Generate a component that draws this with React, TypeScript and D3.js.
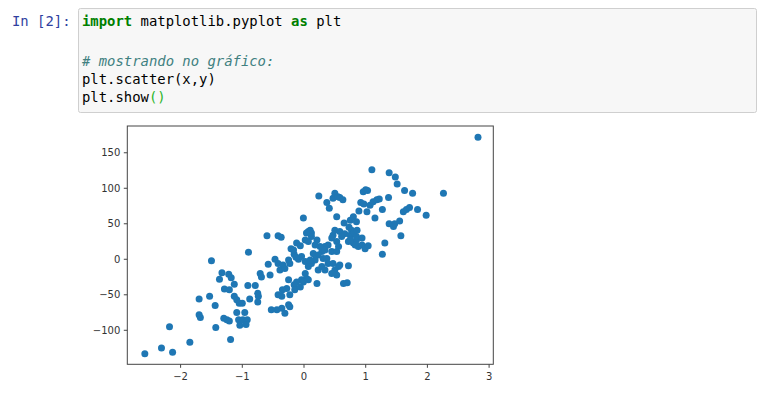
import React from "react";
import * as d3 from "d3";

// scatter data (x, y)
const xs: number[] = [
  -2.58, -2.31, -2.13, -2.18, -1.85, -1.50, -0.90, -1.70, -1.70, -1.68,
  -1.53, -1.44, -1.43, -1.19, -1.33, -1.37, -1.22, -1.18, -1.13, -1.29,
  -1.21, -1.13, -1.09, -1.05, -1.00, -1.30, -1.25, -1.21, -1.09, -1.06,
  -1.04, -0.99, -0.96, -0.92, -0.94, -0.91, -0.88, -0.79, -0.75, -0.71,
  -0.69, -0.74, -0.58, -0.55, -0.47, -0.42, -0.34, -0.25, -0.39, -0.31,
  -0.23, -0.09, -0.04, -0.16, -0.13, -0.21, -0.17, -0.12, 0.02, 0.07,
  0.12, 0.15, 0.02, 0.07, 0.02, 0.04, -0.04, -0.12, -0.16, -0.25,
  -0.28, -0.35, -0.42, -0.36, -0.25, -0.36, -0.44, -0.53, -0.31, -0.23,
  0.21, -0.75, -0.60, -0.42, -0.37, -0.01, 0.24, 0.37, 0.41, 0.47,
  0.50, 0.55, 0.58, 0.63, 0.53, -0.15, -0.23, -0.01, 0.21, 0.34,
  0.39, 0.47, 0.50, 0.58, 0.53, 0.56, 0.29, 0.23, 0.18, 0.12,
  0.23, 0.29, 0.31, 0.37, 0.39, 0.47, 0.50, 0.56, 0.53, 0.64,
  0.65, 0.45, 0.34, 0.45, 0.26, 0.18, 0.07, -0.06, 0.72, 0.80,
  0.88, 0.94, 0.99, 1.04, 0.85, 0.72, 0.70, 0.10, 0.58, 1.10,
  1.38, 1.48, 1.51, 1.63, 1.76, 2.26, 2.82, 0.96, 1.00, 1.03,
  0.92, 0.97, 1.07, 1.12, 1.18, 1.22, 1.37, 1.27, 0.89, 1.02,
  1.15, 0.75, 0.80, 0.85, 1.61, 1.66, 1.71, 1.84, 1.98, 1.38,
  1.45, 1.47, 1.55, 1.57, 1.31, 1.27, 0.73, 0.77, 0.66, 0.75,
  0.81, 0.86, 0.85, 0.75, 0.94, 0.83, 0.61, 0.45, 0.10, 0.12,
  0.07, 0.34, 0.53, -0.06, 0.04,
];
const ys: number[] = [
  -133, -125, -131, -95, -117, -2, 10, -56, -78, -82,
  -52, -65, -96, -113, -19, -28, -21, -26, -35, -42,
  -43, -52, -57, -62, -62, -83, -85, -87, -75, -85,
  -93, -85, -75, -85, -92, -37, -56, -37, -60, -20,
  -25, -52, -7, -22, 0, -6, -8, -1, -15, -13,
  -6, 0, 4, 7, 3, 15, 13, 23, 27, 39,
  37, 8, -3, -10, -20, -27, -29, -32, -36, -29,
  -41, -43, -50, -52, -64, -69, -71, -71, -76, -67,
  -34, -48, 33, 33, 31, 58, 89, 80, 72, 86,
  93, 88, 87, 84, 60, -43, -50, -32, 27, 18,
  20, 34, 41, 39, 25, 18, 11, 6, -1, -6,
  -15, -10, 1, 1, -6, -6, -15, -10, -22, -34,
  51, -20, -15, 11, 18, 20, -29, -39, 25, 23,
  18, 20, 15, 19, 27, -9, -33, -1, -8, 126,
  122, 116, 106, 97, 93, 93, 172, 95, 98, 97,
  80, 78, 76, 81, 84, 85, 87, 70, 68, 67,
  58, 55, 60, 53, 67, 70, 73, 70, 62, 50,
  46, 50, 54, 33, 23, 7, 45, 41, 36, 34,
  38, 41, 32, 27, 30, 20, 32, 30, 41, 32,
  25, 13, 11, 19, 37,
];
const xTicks: number[] = [-2, -1, 0, 1, 2, 3];
const yTicks: number[] = [-100, -50, 0, 50, 100, 150];
const xLimits: number[] = [-2.864, 3.068];
const yLimits: number[] = [-147.9, 187.7];

const codeLines = [
  [{ t: "import", c: "#008000", w: "bold" }, { t: " matplotlib.pyplot ", c: "#000" }, { t: "as", c: "#008000", w: "bold" }, { t: " plt", c: "#000" }],
  [],
  [{ t: "# mostrando no gráfico:", c: "#408080", i: true }],
  [{ t: "plt.scatter(x,y)", c: "#000" }],
  [{ t: "plt.show", c: "#000" }, { t: "()", c: "#2ab52a" }],
];

export default function App() {
  const left = 127.3, right = 493.3, top = 126, bottom = 364.3;
  const x = d3.scaleLinear().domain(xLimits).range([left, right]);
  const y = d3.scaleLinear().domain(yLimits).range([bottom, top]);
  const fmt = (v: number) => (v < 0 ? "\u2212" + Math.abs(v) : String(v));
  const mono = "'DejaVu Sans Mono', 'Liberation Mono', monospace";
  const lineY = [26, 45, 66, 84, 102];
  return (
    <div style={{ position: "absolute", left: 0, top: 0, width: 768, height: 401, background: "#fff" }}>
      <svg width={768} height={401} style={{ display: "block" }}>
        <text x={12} y={26} fontFamily={mono} fontSize={13.9} fill="#303F9F">In [2]:</text>
        <rect x={78.5} y={8.5} width={678} height={104} rx={2} fill="#f7f7f7" stroke="#cfcfcf" />
        {codeLines.map((ln, i) => (
          <text key={i} x={82} y={lineY[i]} fontFamily={mono} fontSize={13.9} xmlSpace="preserve" style={{ whiteSpace: "pre" }}>
            {ln.map((s: any, j: number) => (
              <tspan key={j} fill={s.c} fontWeight={s.w || "normal"} fontStyle={s.i ? "italic" : "normal"}>{s.t}</tspan>
            ))}
          </text>
        ))}
        <g>
          {xs.map((v, i) => (
            <circle key={i} cx={x(v)} cy={y(ys[i])} r={3.5} fill="#1f77b4" />
          ))}
        </g>
        <rect x={left} y={top} width={right - left} height={bottom - top} fill="none" stroke="#444" strokeWidth={1} />
        {xTicks.map((t) => (
          <g key={"x" + t}>
            <line x1={x(t)} x2={x(t)} y1={bottom} y2={bottom + 3.5} stroke="#444" />
            <text x={x(t)} y={bottom + 16} textAnchor="middle" fontFamily="'DejaVu Sans', sans-serif" fontSize={10} fill="#333">{fmt(t)}</text>
          </g>
        ))}
        {yTicks.map((t) => (
          <g key={"y" + t}>
            <line x1={left - 3.5} x2={left} y1={y(t)} y2={y(t)} stroke="#444" />
            <text x={left - 7} y={y(t) + 3.6} textAnchor="end" fontFamily="'DejaVu Sans', sans-serif" fontSize={10} fill="#333">{fmt(t)}</text>
          </g>
        ))}
      </svg>
    </div>
  );
}
